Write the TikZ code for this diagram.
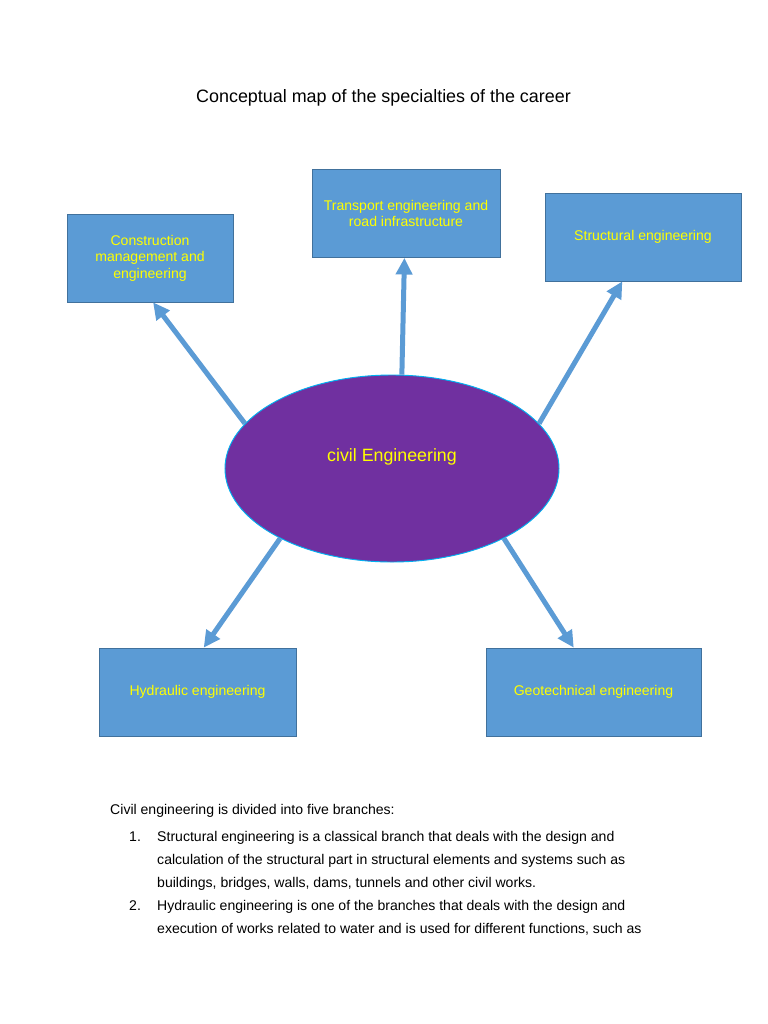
\documentclass[tikz,border=0pt]{standalone}
\usepackage{fontspec}
\setmainfont{Liberation Sans}
\usetikzlibrary{arrows.meta,shapes.geometric}
\definecolor{boxblue}{HTML}{5B9BD5}
\definecolor{boxline}{HTML}{41719C}
\definecolor{hubfill}{HTML}{7030A0}
\definecolor{hubline}{HTML}{00B0F0}
\definecolor{labelyellow}{HTML}{FFFF00}

\begin{document}
\begin{tikzpicture}[x=0.03cm, y=-0.03cm,
  branchbox/.style={rectangle, draw=boxline, fill=boxblue, line width=0.6pt,
    minimum height=2.64cm, align=center, inner sep=2pt, text=labelyellow,
    font=\fontsize{12}{14}\selectfont},
  hub/.style={ellipse, draw=hubline, fill=hubfill, line width=0.8pt,
    minimum width=10.02cm, minimum height=5.61cm, inner sep=0pt},
  link/.style={draw=boxblue, line width=0.15cm,
    -{Triangle[length=0.5cm, width=0.48cm]}},
  body/.style={anchor=base west, inner sep=0pt, font=\fontsize{12}{14}\selectfont}
]
\fill[white] (0,0) rectangle (768,1024);
\useasboundingbox (0,0) rectangle (768,1024);

% title
\node[anchor=base, inner sep=0pt, font=\fontsize{15.3}{18}\selectfont] (title) at (383.5,102)
  {Conceptual map of the specialties of the career};

% centre and branches
\node[hub, label={[text=labelyellow, font=\fontsize{15.2}{18}\selectfont, yshift=0.35cm]center:civil Engineering}] (civil) at (392,468.5) {};

\node[branchbox, minimum width=4.98cm] (construction) at (150,258) {Construction\\management and\\engineering};
\node[branchbox, minimum width=5.64cm] (transport) at (406,213.5) {Transport engineering and\\road infrastructure};
\node[branchbox, minimum width=5.88cm] (structural) at (643,237) {Structural engineering};
\node[branchbox, minimum width=5.91cm] (hydraulic) at (197.5,692) {Hydraulic engineering};
\node[branchbox, minimum width=6.45cm] (geotech) at (593.5,692) {Geotechnical engineering};

\draw[link] (civil.163.7) -- (construction.274);
\draw[link] (civil.84.5) -- (transport.268.7);
\draw[link] (civil.17.7) -- (structural.245.6);
\draw[link] (civil.212.8) -- (hydraulic.82);
\draw[link] (civil.328.1) -- (geotech.114.5);

% text below the map
\node[body] (intro) at (110,814) {Civil engineering is divided into five branches:};
\node[body] (n1) at (129,841) {1.};
\node[body] (t1a) at (157,841) {Structural engineering is a classical branch that deals with the design and};
\node[body] (t1b) at (157,864) {calculation of the structural part in structural elements and systems such as};
\node[body] (t1c) at (157,887) {buildings, bridges, walls, dams, tunnels and other civil works.};
\node[body] (n2) at (129,910) {2.};
\node[body] (t2a) at (157,910) {Hydraulic engineering is one of the branches that deals with the design and};
\node[body] (t2b) at (157,933) {execution of works related to water and is used for different functions, such as};

\end{tikzpicture}
\end{document}
